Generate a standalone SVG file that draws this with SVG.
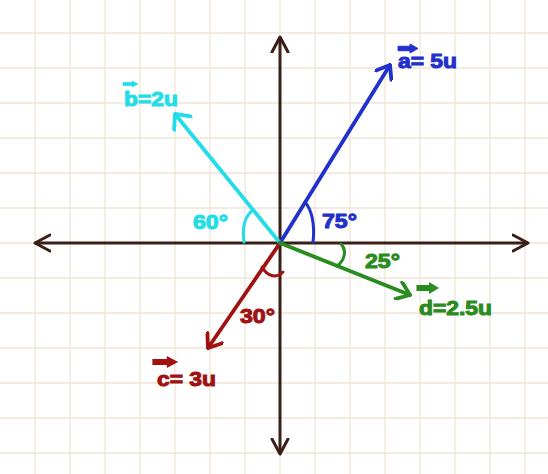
<svg xmlns="http://www.w3.org/2000/svg" width="548" height="474" viewBox="0 0 548 474">
<style>
.grid line{stroke:#efe5d6;stroke-width:1.3}
.axis{stroke:#3b1e16;stroke-width:3;fill:none}
.vec{stroke-width:3.8;fill:none;stroke-linecap:round}
.arc{stroke-width:3;fill:none;stroke-linecap:round}
text{font-family:"Liberation Sans",Arial,sans-serif;font-weight:bold;font-size:20px}
.blue{stroke:#2230cc;fill:#2230cc}
.cyan{stroke:#22dde8;fill:#22dde8}
.red{stroke:#a01212;fill:#a01212}
.green{stroke:#2a8c1e;fill:#2a8c1e}
</style>
<defs>
<marker id="hBlue" viewBox="0 0 16 20" refX="14" refY="10" markerWidth="16" markerHeight="20" markerUnits="userSpaceOnUse" orient="auto"><path d="M2,1 L14,10 L2,19" fill="none" stroke="#2230cc" stroke-width="3.8" stroke-linecap="round" stroke-linejoin="round"/></marker>
<marker id="hCyan" viewBox="0 0 16 24" refX="14" refY="12" markerWidth="16" markerHeight="24" markerUnits="userSpaceOnUse" orient="auto"><path d="M2,1 L14,12 L2,23" fill="none" stroke="#22dde8" stroke-width="3.8" stroke-linecap="round" stroke-linejoin="round"/></marker>
<marker id="hRed" viewBox="0 0 16 20" refX="14" refY="10" markerWidth="16" markerHeight="20" markerUnits="userSpaceOnUse" orient="auto"><path d="M2,1 L14,10 L2,19" fill="none" stroke="#a01212" stroke-width="3.8" stroke-linecap="round" stroke-linejoin="round"/></marker>
<marker id="hGreen" viewBox="0 0 16 20" refX="14" refY="10" markerWidth="16" markerHeight="20" markerUnits="userSpaceOnUse" orient="auto"><path d="M2,1 L14,10 L2,19" fill="none" stroke="#2a8c1e" stroke-width="3.8" stroke-linecap="round" stroke-linejoin="round"/></marker>
<marker id="hAxis" viewBox="0 0 18 20" refX="16" refY="10" markerWidth="18" markerHeight="20" markerUnits="userSpaceOnUse" orient="auto"><path d="M1,2 L16,10 L1,18" fill="none" stroke="#3b1e16" stroke-width="3" stroke-linecap="round" stroke-linejoin="round"/></marker>
<path id="va" d="M0,2.5 L12,2.5 L12,0 L20,5 L12,10 L12,7.5 L0,7.5 Z"/>
</defs>
<rect width="548" height="474" fill="#ffffff"/>
<g class="grid">
<line x1="35" y1="0" x2="35" y2="474"/><line x1="70" y1="0" x2="70" y2="474"/><line x1="105" y1="0" x2="105" y2="474"/><line x1="140" y1="0" x2="140" y2="474"/><line x1="175" y1="0" x2="175" y2="474"/><line x1="210" y1="0" x2="210" y2="474"/><line x1="245" y1="0" x2="245" y2="474"/><line x1="280" y1="0" x2="280" y2="474"/><line x1="315" y1="0" x2="315" y2="474"/><line x1="350" y1="0" x2="350" y2="474"/><line x1="385" y1="0" x2="385" y2="474"/><line x1="420" y1="0" x2="420" y2="474"/><line x1="455" y1="0" x2="455" y2="474"/><line x1="490" y1="0" x2="490" y2="474"/><line x1="525" y1="0" x2="525" y2="474"/>
<line x1="0" y1="33" x2="548" y2="33"/><line x1="0" y1="68" x2="548" y2="68"/><line x1="0" y1="103" x2="548" y2="103"/><line x1="0" y1="138" x2="548" y2="138"/><line x1="0" y1="173" x2="548" y2="173"/><line x1="0" y1="208" x2="548" y2="208"/><line x1="0" y1="243" x2="548" y2="243"/><line x1="0" y1="278" x2="548" y2="278"/><line x1="0" y1="313" x2="548" y2="313"/><line x1="0" y1="348" x2="548" y2="348"/><line x1="0" y1="383" x2="548" y2="383"/><line x1="0" y1="418" x2="548" y2="418"/><line x1="0" y1="453" x2="548" y2="453"/>
</g>
<g id="axes">
<line class="axis" x1="280" y1="243" x2="35" y2="243" marker-end="url(#hAxis)"/>
<line class="axis" x1="280" y1="243" x2="528" y2="243" marker-end="url(#hAxis)"/>
<line class="axis" x1="280" y1="243" x2="280" y2="37" marker-end="url(#hAxis)"/>
<line class="axis" x1="280" y1="243" x2="280" y2="454" marker-end="url(#hAxis)"/>
</g>
<g id="connectors">
<line id="vec-a" class="vec blue" x1="280" y1="243" x2="390" y2="65" marker-end="url(#hBlue)"/>
<line id="vec-b" class="vec cyan" x1="280" y1="243" x2="175" y2="114" marker-end="url(#hCyan)"/>
<line id="vec-c" class="vec red" x1="280" y1="243" x2="208" y2="348" marker-end="url(#hRed)"/>
<line id="vec-d" class="vec green" x1="280" y1="243" x2="410" y2="295" marker-end="url(#hGreen)"/>
</g>
<g id="angle-60">
<path class="arc cyan" d="M244,242 C242,228 245,216 253,210" style="fill:none"/>
<text class="cyan" x="193" y="229" stroke="none" textLength="35" lengthAdjust="spacingAndGlyphs">60°</text>
</g>
<g id="angle-75">
<path class="arc blue" d="M313,242 C315,225 312,210 305,202" style="fill:none"/>
<text class="blue" x="322" y="228" stroke="none" textLength="35" lengthAdjust="spacingAndGlyphs">75°</text>
</g>
<g id="angle-25">
<path class="arc green" d="M341,244 C347,250 345,260 337,266" style="fill:none"/>
<text class="green" x="365" y="268" stroke="none" textLength="35" lengthAdjust="spacingAndGlyphs">25°</text>
</g>
<g id="angle-30">
<path class="arc red" d="M262,267 C267,276 276,279 283,272" style="fill:none"/>
<text class="red" x="240" y="323" stroke="none" textLength="35" lengthAdjust="spacingAndGlyphs">30°</text>
</g>
<g id="label-a">
<use href="#va" class="blue" stroke="none" transform="translate(398,44) scale(1,0.9)"/>
<text class="blue" x="398" y="68" stroke="none" textLength="59" lengthAdjust="spacingAndGlyphs">a= 5u</text>
</g>
<g id="label-b">
<use href="#va" class="cyan" stroke="none" transform="translate(123,81) scale(0.75,0.6)"/>
<text class="cyan" x="124" y="106" stroke="none" textLength="54" lengthAdjust="spacingAndGlyphs">b=2u</text>
</g>
<g id="label-c">
<use href="#va" class="red" stroke="none" transform="translate(153,357) scale(1.2,1)"/>
<text class="red" x="157" y="386" stroke="none" textLength="59" lengthAdjust="spacingAndGlyphs">c= 3u</text>
</g>
<g id="label-d">
<use href="#va" class="green" stroke="none" transform="translate(417,283) scale(1.05,1)"/>
<text class="green" x="419" y="315" stroke="none" textLength="73" lengthAdjust="spacingAndGlyphs">d=2.5u</text>
</g>
</svg>
